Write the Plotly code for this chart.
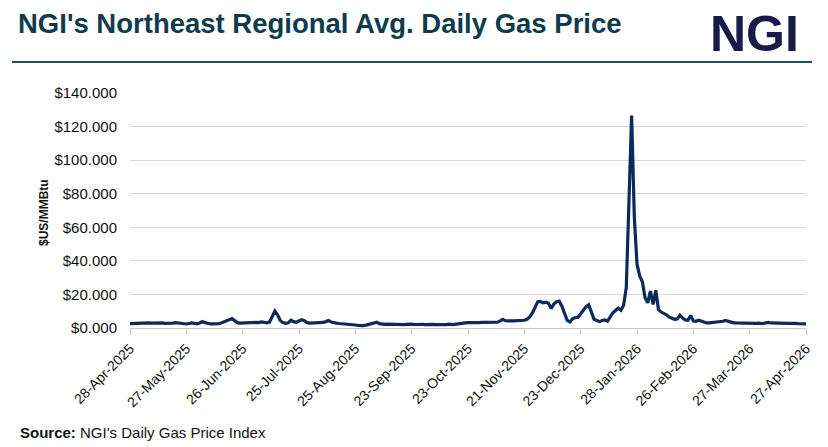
import plotly.graph_objects as go

# ---- data ----
tick_labels = ["28-Apr-2025", "27-May-2025", "26-Jun-2025", "25-Jul-2025", "25-Aug-2025",
               "23-Sep-2025", "23-Oct-2025", "21-Nov-2025", "23-Dec-2025", "28-Jan-2026",
               "26-Feb-2026", "27-Mar-2026", "27-Apr-2026"]

prices = [
    2.6, 2.7, 2.8, 2.9, 3.0, 3.1, 3.2, 3.0, 2.9, 3.0, 3.1, 3.3, 3.0, 2.8, 2.7, 2.6, 2.9, 3.2, 3.0, 2.7,
    2.5, 2.4, 2.7, 3.0, 2.8, 2.5, 3.0, 3.9, 3.2, 2.6, 2.4, 2.5, 2.4, 2.6, 3.0, 3.6, 4.2, 5.0, 5.6, 4.4,
    3.2, 2.9, 3.0, 3.2, 3.1, 3.3, 3.5, 3.3, 3.2, 3.6, 3.4, 3.1, 3.5, 6.5, 10.0, 7.8, 4.5, 3.2, 2.8, 3.1,
    4.6, 3.8, 3.4, 4.2, 4.9, 4.3, 3.2, 2.9, 3.0, 3.1, 3.0, 3.2, 3.3, 3.8, 4.4, 3.6, 3.0, 2.9, 2.7, 2.6,
    2.5, 2.4, 2.3, 2.1, 1.8, 1.5, 1.3, 1.4, 1.7, 2.2, 2.6, 2.9, 3.4, 2.6, 2.2, 2.2, 2.3, 2.2, 2.1, 2.2,
    2.3, 2.2, 2.0, 2.2, 2.4, 2.3, 2.1, 2.2, 2.4, 2.2, 2.0, 2.1, 2.3, 2.2, 2.0, 1.9, 2.1, 1.8, 2.0, 2.3,
    2.0, 2.2, 2.5, 2.8, 3.0, 3.1, 3.2, 3.1, 3.2, 3.3, 3.2, 3.3, 3.4, 3.3, 3.2, 3.3, 3.4, 3.5, 4.2, 5.2,
    4.3, 4.1, 4.2, 4.3, 4.4, 4.3, 4.5, 4.6, 5.2, 6.6, 9.0, 12.8, 15.6, 15.8, 15.0, 15.4, 14.8, 11.6, 14.2, 15.6,
    16.0, 13.0, 8.5, 4.5, 3.6, 5.5, 6.2, 6.4, 8.5, 11.0, 12.7, 13.8, 9.0, 5.2, 4.5, 3.8, 4.5, 4.8, 4.0, 7.0,
    9.0, 10.4, 11.8, 10.5, 13.5, 24.0, 78.0, 126.5, 66.0, 38.0, 31.0, 27.5, 18.0, 15.0, 22.0, 14.0, 22.5, 11.0, 9.5, 8.8,
    7.8, 6.5, 5.6, 5.2, 5.4, 7.6, 6.0, 4.8, 4.6, 7.4, 4.2, 4.0, 4.6, 4.2, 3.4, 3.0, 3.1, 3.3, 3.2, 3.4,
    3.6, 4.0, 4.5, 4.0, 3.5, 3.1, 3.0, 2.9, 3.0, 2.8, 2.7, 2.8, 2.6, 2.7, 2.9, 2.8, 2.6, 3.1, 3.3, 3.0,
    2.9, 2.8, 2.7, 2.8, 2.9, 2.7, 2.8, 2.9, 2.7, 2.6, 2.6, 2.5, 2.5,
]

y_ticks = [0, 20, 40, 60, 80, 100, 120, 140]
y_tick_text = ["&#36;%.3f" % v for v in y_ticks]

# ---- layout helpers ----
W, H = 828, 447
L, R, T, B = 130, 22, 93, 119
pw, ph = W - L - R, H - T - B


def px_x(x):
    return (x - L) / pw


def px_y(y):
    return (H - B - y) / ph


idx = list(range(len(prices)))
step = (len(prices) - 1) // (len(tick_labels) - 1)
tick_pos = [i * step for i in range(len(tick_labels))]

fig = go.Figure()
fig.add_trace(go.Scatter(
    x=idx, y=prices, mode="lines",
    line=dict(color="#0c2a5c", width=3.2),
    hoverinfo="skip", showlegend=False,
))

FONT = "Liberation Sans, Arial, sans-serif"

fig.update_layout(
    width=W, height=H,
    margin=dict(l=L, r=R, t=T, b=B),
    paper_bgcolor="white", plot_bgcolor="white",
    font=dict(family=FONT, color="#1a1a1a"),
    xaxis=dict(
        range=[0, len(prices) - 1],
        tickmode="array", tickvals=tick_pos, ticktext=tick_labels,
        tickangle=-45, tickfont=dict(size=14, color="#111111"),
        showgrid=False, zeroline=False,
        showline=True, linecolor="#c8c8c8", linewidth=1,
        ticks="outside", ticklen=6, tickcolor="#c8c8c8",
    ),
    yaxis=dict(
        range=[0, 140],
        tickmode="array", tickvals=y_ticks, ticktext=y_tick_text,
        tickfont=dict(size=15, color="#111111"),
        showgrid=True, gridcolor="#d9d9d9", gridwidth=1,
        zeroline=False, showline=False,
        ticks="outside", ticklen=9, tickcolor="rgba(0,0,0,0)",
    ),
    title=dict(
        text="<b>NGI's Northeast Regional Avg. Daily Gas Price</b>",
        font=dict(family=FONT, size=27.5, color="#0e3b4e"),
        xref="container", yref="container",
        x=18 / W, y=1 - 23 / H, xanchor="left", yanchor="middle",
    ),
    annotations=[
        dict(text="<b>NGI</b>", xref="paper", yref="paper",
             x=px_x(754), y=px_y(34), xanchor="center", yanchor="middle",
             showarrow=False, font=dict(family=FONT, size=50, color="#1b1a46")),
        dict(text="<b>&#36;US/MMBtu</b>", xref="paper", yref="paper",
             x=px_x(44), y=px_y(212), xanchor="center", yanchor="middle",
             textangle=-90, showarrow=False,
             font=dict(family=FONT, size=12, color="#111111")),
        dict(text="<b>Source:</b> NGI's Daily Gas Price Index", xref="paper", yref="paper",
             x=px_x(18), y=px_y(432), xanchor="left", yanchor="middle",
             showarrow=False, font=dict(family=FONT, size=15, color="#111111")),
    ],
    shapes=[
        dict(type="line", xref="paper", yref="paper",
             x0=px_x(12), x1=px_x(812), y0=px_y(62), y1=px_y(62),
             line=dict(color="#1f4f5c", width=2)),
    ],
)

fig.write_html("out.html")
